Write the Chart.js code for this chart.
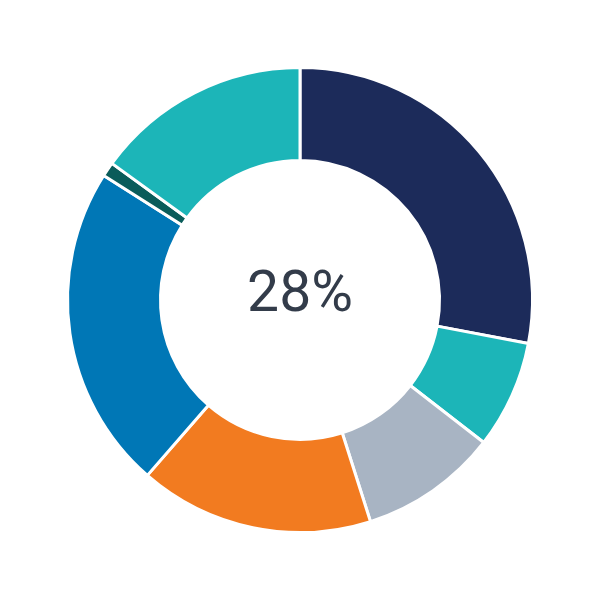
<!DOCTYPE html>
<html>
<head>
<meta charset="utf-8">
<script src="https://cdn.jsdelivr.net/npm/chart.js@4/dist/chart.umd.min.js"></script>
<style>
  html, body { margin: 0; padding: 0; background: #fff; }
  #wrap { width: 600px; height: 600px; }
</style>
</head>
<body>
<div id="wrap"><canvas id="chart" width="600" height="600"></canvas></div>
<script>
// Valores (sentido horário a partir do topo)
const categorias = ['A', 'B', 'C', 'D', 'E', 'F', 'G'];
const valores    = [28, 7.5, 9.6, 16.3, 22.6, 1, 15];
const cores      = ['#1c2b5a', '#1cb5b8', '#a8b4c3', '#f27b20', '#0077b6', '#0a5c5a', '#1cb5b8'];
const textoCentro = '28%';

const centerText = {
  id: 'centerText',
  afterDraw(chart) {
    const { ctx } = chart;
    const meta = chart.getDatasetMeta(0).data[0];
    if (!meta) return;
    ctx.save();
    ctx.font = '400 57px Roboto, "Open Sans", sans-serif';
    ctx.fillStyle = '#333c4a';
    ctx.textAlign = 'center';
    ctx.textBaseline = 'middle';
    ctx.fillText(textoCentro, meta.x, meta.y - 3);
    ctx.restore();
  },
};

new Chart(document.getElementById('chart'), {
  type: 'doughnut',
  data: {
    labels: categorias,
    datasets: [{ data: valores, backgroundColor: cores, borderColor: '#ffffff', borderWidth: 3 }],
  },
  options: {
    responsive: false,
    animation: false,
    cutout: '60%',
    layout: { padding: 66 },
    plugins: { legend: { display: false }, tooltip: { enabled: false } },
  },
  plugins: [centerText],
});
</script>
</body>
</html>
